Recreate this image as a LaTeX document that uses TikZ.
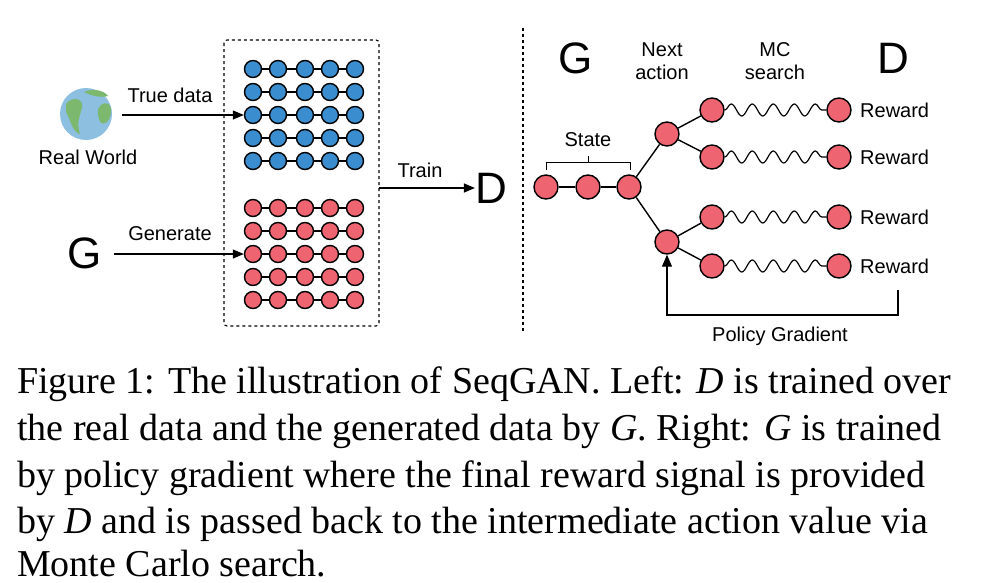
\documentclass[tikz,border=0pt]{standalone}
\usepackage{fontspec}
\setmainfont{Liberation Serif}
\newfontfamily\lsans{Liberation Sans}
\usetikzlibrary{decorations.pathmorphing,decorations.pathreplacing,arrows.meta}
\definecolor{bl}{HTML}{3A8ED0}
\definecolor{rd}{HTML}{EE6470}
\definecolor{sea}{HTML}{8DBFE0}
\definecolor{land}{HTML}{7CB86E}
\begin{document}
\begin{tikzpicture}[x=1pt,y=-1pt,
  lab/.style={font=\lsans\fontsize{20}{20}\selectfont,inner sep=0},
  big/.style={font=\lsans\fontsize{44}{44}\selectfont,inner sep=0},
  bd/.style={circle,draw=black,line width=1.4pt,fill=bl,minimum size=17pt,inner sep=0},
  rdd/.style={circle,draw=black,line width=1.4pt,fill=rd,minimum size=17pt,inner sep=0},
  rn/.style={circle,draw=black,line width=1.4pt,fill=rd,minimum size=24pt,inner sep=0},
  arr/.style={-{Triangle[length=11pt,width=9pt]},line width=1.1pt},
  ln/.style={line width=1.4pt},
  capt/.style={font=\fontsize{38}{38}\selectfont,anchor=base west,inner sep=0}]
\useasboundingbox (0,0) rectangle (989,582);
% dashed box and divider
\draw[dashed,line width=1.1pt,rounded corners=3pt] (224,40) rectangle (379,326);
\draw[dashed,line width=1.1pt] (523,28) -- (523,332);
% dots
\foreach \r/\y in {1/69,2/92,3/115,4/138,5/161}{
  \foreach \c/\x in {1/253,2/278,3/305,4/330,5/355}{\node[bd] (b\r\c) at (\x,\y) {};}
  \draw[ln] (b\r1)--(b\r2)--(b\r3)--(b\r4)--(b\r5);}
\foreach \r/\y in {1/208,2/231,3/254,4/277,5/300}{
  \foreach \c/\x in {1/253,2/278,3/305,4/330,5/355}{\node[rdd] (r\r\c) at (\x,\y) {};}
  \draw[ln] (r\r1)--(r\r2)--(r\r3)--(r\r4)--(r\r5);}
% globe
\node[circle,fill=sea,minimum size=52pt,inner sep=0] (globe) at (86,114) {};
\fill[land] (66,104) .. controls (72,96) and (84,98) .. (82,108) .. controls (80,116) and (76,122) .. (80,134) .. controls (72,132) and (70,118) .. (66,112) -- cycle;
\fill[land] (100,106) .. controls (106,100) and (112,104) .. (111,112) .. controls (110,122) and (104,126) .. (100,122) .. controls (98,116) and (96,110) .. (100,106) -- cycle;
\fill[land] (84,92) .. controls (92,88) and (104,90) .. (108,96) .. controls (100,98) and (92,96) .. (84,92) -- cycle;
\node[lab] (rw) at (88,157) {Real World};
\coordinate (tds) at (122,115);
\draw[arr] (tds) -- (b31.west);
\node[lab] at (170,95) {True data};
\node[big] (G1) at (85,253) {G};
\coordinate (gs) at (114,254);
\draw[arr] (gs) -- (r31.west);
\node[lab] at (170,234) {Generate};
\coordinate (tr) at (379,188);
\node[big] (D1) at (491,188) {D};
\draw[arr] (tr) -- (D1.west);
\node[lab] at (420,170) {Train};
% right side
\node[big] at (576,58) {G};
\node[big] at (893,58) {D};
\node[lab,align=center] at (662,61) {Next\\[3pt]action};
\node[lab,align=center] at (775,61) {MC\\[3pt]search};
\node[rn] (s1) at (546,187) {};
\node[rn] (s2) at (588,187) {};
\node[rn] (s3) at (629,187) {};
\draw[ln] (s1)--(s2)--(s3);
\draw[line width=1pt] (546,170) -- (546,162) -- (630,162) -- (630,170) (588,162) -- (588,156);
\node[lab] at (588,140) {State};
\node[rn] (a1) at (667,134) {};
\node[rn] (a2) at (667,242) {};
\draw[ln] (s3)--(a1) (s3)--(a2);
\foreach \i/\y/\a in {1/110/a1,2/157/a1,3/217/a2,4/266/a2}{
  \node[rn] (l\i) at (712,\y) {};
  \node[rn] (e\i) at (839,\y) {};
  \draw[ln] (\a)--(l\i);
  \draw[line width=1.2pt,decorate,decoration={snake,segment length=21pt,amplitude=6pt}] (l\i.east) -- (e\i.west);
  \node[lab,anchor=west] at (860,\y) {Reward};}
\coordinate (pg) at (898,290);
\draw[line width=1.1pt,-{Triangle[length=12pt,width=10pt]}] (pg) -- (898,315) -- (667,315) -- (a2.south);
\node[lab] at (780,336) {Policy Gradient};
% caption
\node[capt] at (17,393) {Figure 1: The illustration of SeqGAN. Left: \textit{D} is trained over};
\node[capt] at (17,440) {the real data and the generated data by \textit{G}. Right: \textit{G} is trained};
\node[capt] at (17,487) {by policy gradient where the final reward signal is provided};
\node[capt] at (17,533) {by \textit{D} and is passed back to the intermediate action value via};
\node[capt] at (17,576) {Monte Carlo search.};
\end{tikzpicture}
\end{document}
